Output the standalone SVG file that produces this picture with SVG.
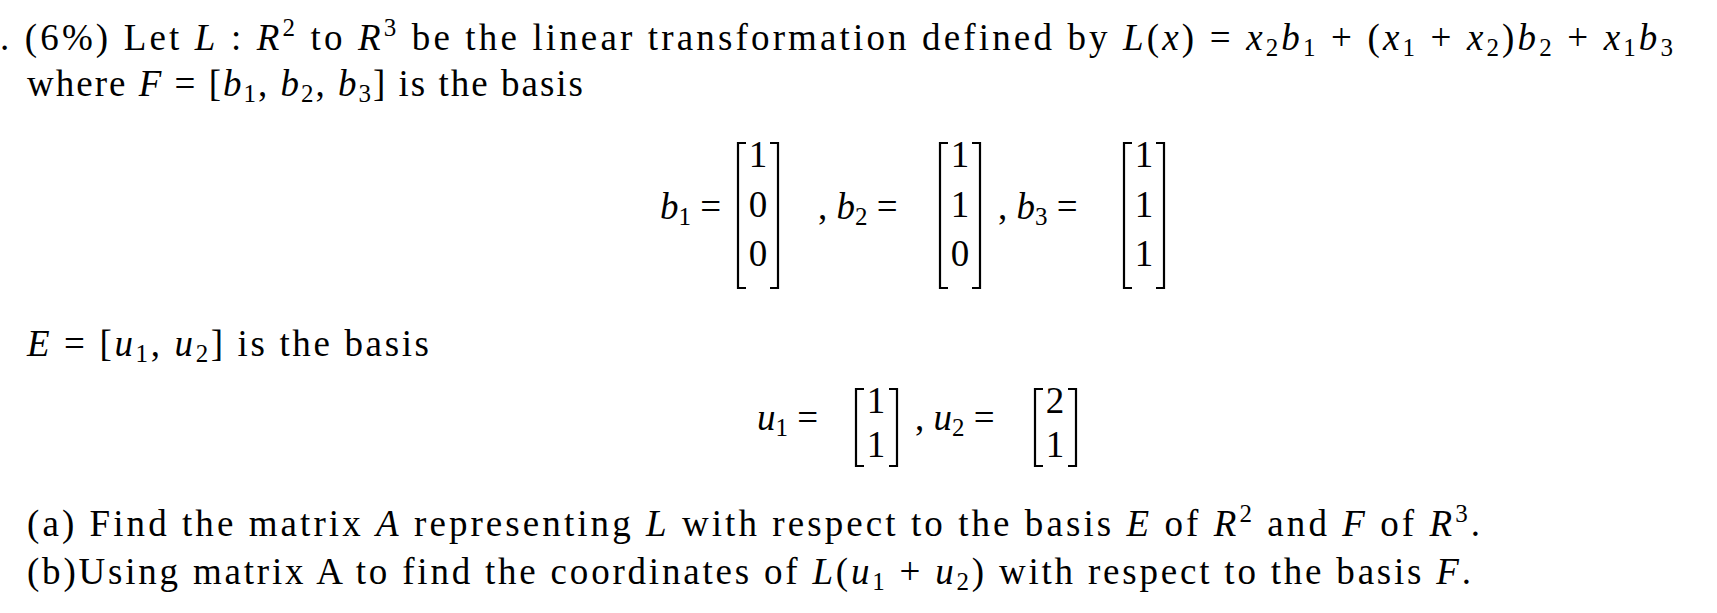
<svg xmlns="http://www.w3.org/2000/svg" width="1717" height="613" viewBox="0 0 1717 613">
<style>
text{font-family:"Liberation Serif","DejaVu Serif",serif;font-size:37px;fill:#000}
.i{font-style:italic}
.s{font-size:25px}
.br{fill:none;stroke:#000;stroke-width:2.2}
</style>
<rect width="1717" height="613" fill="#fff"/>
<g id="line1"><text x="0" y="50" textLength="1673" lengthAdjust="spacing">. (6%) Let <tspan class="i">L</tspan> : <tspan class="i">R</tspan><tspan class="s" dy="-14">2</tspan><tspan dy="14"> to </tspan><tspan class="i">R</tspan><tspan class="s" dy="-14">3</tspan><tspan dy="14"> be the linear transformation defined by </tspan><tspan class="i">L</tspan>(<tspan class="i">x</tspan>) = <tspan class="i">x</tspan><tspan class="s" dy="6">2</tspan><tspan class="i" dy="-6">b</tspan><tspan class="s" dy="6">1</tspan><tspan dy="-6"> + (</tspan><tspan class="i">x</tspan><tspan class="s" dy="6">1</tspan><tspan dy="-6"> + </tspan><tspan class="i">x</tspan><tspan class="s" dy="6">2</tspan><tspan dy="-6">)</tspan><tspan class="i">b</tspan><tspan class="s" dy="6">2</tspan><tspan dy="-6"> + </tspan><tspan class="i">x</tspan><tspan class="s" dy="6">1</tspan><tspan class="i" dy="-6">b</tspan><tspan class="s" dy="6">3</tspan></text></g>
<g id="line2"><text x="27" y="96" textLength="556" lengthAdjust="spacing">where <tspan class="i">F</tspan> = [<tspan class="i">b</tspan><tspan class="s" dy="6">1</tspan><tspan dy="-6">, </tspan><tspan class="i">b</tspan><tspan class="s" dy="6">2</tspan><tspan dy="-6">, </tspan><tspan class="i">b</tspan><tspan class="s" dy="6">3</tspan><tspan dy="-6">] is the basis</tspan></text></g>
<g id="bvectors">
<text x="660" y="219"><tspan class="i">b</tspan><tspan class="s" dy="6">1</tspan><tspan dy="-6"> =</tspan></text>
<path class="br" d="M746,143 H738 V288 H746 M770,143 H778 V288 H770"/>
<text x="758" y="167" text-anchor="middle">1</text><text x="758" y="217" text-anchor="middle">0</text><text x="758" y="266" text-anchor="middle">0</text>
<text x="818" y="219">, <tspan class="i">b</tspan><tspan class="s" dy="6">2</tspan><tspan dy="-6"> =</tspan></text>
<path class="br" d="M948,143 H940 V288 H948 M972,143 H980 V288 H972"/>
<text x="960" y="167" text-anchor="middle">1</text><text x="960" y="217" text-anchor="middle">1</text><text x="960" y="266" text-anchor="middle">0</text>
<text x="998" y="219">, <tspan class="i">b</tspan><tspan class="s" dy="6">3</tspan><tspan dy="-6"> =</tspan></text>
<path class="br" d="M1132,143 H1124 V288 H1132 M1156,143 H1164 V288 H1156"/>
<text x="1144" y="167" text-anchor="middle">1</text><text x="1144" y="217" text-anchor="middle">1</text><text x="1144" y="266" text-anchor="middle">1</text>
</g>
<g id="line3"><text x="27" y="356" textLength="402" lengthAdjust="spacing"><tspan class="i">E</tspan> = [<tspan class="i">u</tspan><tspan class="s" dy="6">1</tspan><tspan dy="-6">, </tspan><tspan class="i">u</tspan><tspan class="s" dy="6">2</tspan><tspan dy="-6">] is the basis</tspan></text></g>
<g id="uvectors">
<text x="757" y="430"><tspan class="i">u</tspan><tspan class="s" dy="6">1</tspan><tspan dy="-6"> =</tspan></text>
<path class="br" d="M864,389 H856 V466 H864 M889,389 H897 V466 H889"/>
<text x="876" y="413" text-anchor="middle">1</text><text x="876" y="457" text-anchor="middle">1</text>
<text x="915" y="430">, <tspan class="i">u</tspan><tspan class="s" dy="6">2</tspan><tspan dy="-6"> =</tspan></text>
<path class="br" d="M1043,389 H1035 V466 H1043 M1068,389 H1076 V466 H1068"/>
<text x="1055" y="413" text-anchor="middle">2</text><text x="1055" y="457" text-anchor="middle">1</text>
</g>
<g id="parta"><text x="27" y="536" textLength="1453" lengthAdjust="spacing">(a) Find the matrix <tspan class="i">A</tspan> representing <tspan class="i">L</tspan> with respect to the basis <tspan class="i">E</tspan> of <tspan class="i">R</tspan><tspan class="s" dy="-14">2</tspan><tspan dy="14"> and </tspan><tspan class="i">F</tspan> of <tspan class="i">R</tspan><tspan class="s" dy="-14">3</tspan><tspan dy="14">.</tspan></text></g>
<g id="partb"><text x="27" y="584" textLength="1444" lengthAdjust="spacing">(b)Using matrix A to find the coordinates of <tspan class="i">L</tspan>(<tspan class="i">u</tspan><tspan class="s" dy="6">1</tspan><tspan dy="-6"> + </tspan><tspan class="i">u</tspan><tspan class="s" dy="6">2</tspan><tspan dy="-6">) with respect to the basis </tspan><tspan class="i">F</tspan>.</text></g>
</svg>
